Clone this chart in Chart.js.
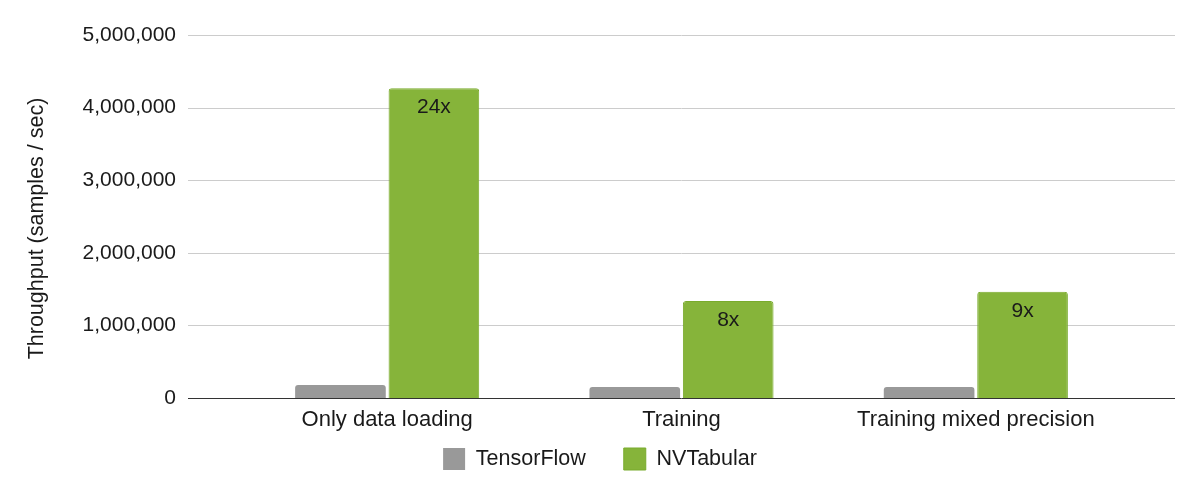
<!DOCTYPE html>
<html>
<head>
<meta charset="utf-8">
<script src="https://cdn.jsdelivr.net/npm/chart.js@4.4.1/dist/chart.umd.min.js"></script>
<style>
  html, body { margin: 0; padding: 0; background: #fff; }
  #wrap { width: 1200px; height: 495px; position: relative; }
</style>
</head>
<body>
<div id="wrap"><canvas id="throughputChart"></canvas></div>
<script>
// Dados
const categories = ['Only data loading', 'Training', 'Training mixed precision'];
const tensorflowValues = [180000, 150000, 150000];
const nvtabularValues = [4266000, 1336000, 1464000];
const speedupLabels = ['24x', '8x', '9x'];
const yTicks = [0, 1000000, 2000000, 3000000, 4000000, 5000000];

const FONT = 'Liberation Sans, Arial, sans-serif';
const TEXT = '#1a1a1a';
const GRID_EXTEND = 52; // linhas de grade passam um pouco da área das barras

// Linhas de grade horizontais (mais largas que a área das categorias) + rótulos nas barras
const extendedGrid = {
    id: 'extendedGrid',
    afterLayout(chart) {
        // o eixo x é "baixo" para aproximar a legenda; aumenta só a área de recorte dos rótulos
        const x = chart.scales.x;
        x.bottom = x.top + 40;
        // título do eixo y fica um pouco abaixo do centro na referência
        const y = chart.scales.y;
        y.top += 12;
        y.bottom += 12;
    },
    beforeDatasetsDraw(chart) {
        const { ctx, chartArea, scales } = chart;
        ctx.save();
        ctx.lineWidth = 1;
        ctx.strokeStyle = '#cccccc';
        yTicks.forEach(function(v) {
            if (v === 0) return;
            const y = Math.round(scales.y.getPixelForValue(v)) + 0.5;
            ctx.beginPath();
            ctx.moveTo(chartArea.left - GRID_EXTEND, y);
            ctx.lineTo(chartArea.right + GRID_EXTEND, y);
            ctx.stroke();
        });
        ctx.restore();
    },
    afterDatasetsDraw(chart) {
        const { ctx, chartArea, scales } = chart;
        ctx.save();
        // linha do zero
        const y0 = Math.round(scales.y.getPixelForValue(0)) + 0.5;
        ctx.strokeStyle = '#333333';
        ctx.lineWidth = 1;
        ctx.beginPath();
        ctx.moveTo(chartArea.left - GRID_EXTEND, y0);
        ctx.lineTo(chartArea.right + GRID_EXTEND, y0);
        ctx.stroke();

        // rótulos de aceleração dentro das barras do NVTabular
        const meta = chart.getDatasetMeta(1);
        ctx.fillStyle = TEXT;
        ctx.font = '21px ' + FONT;
        ctx.textAlign = 'center';
        ctx.textBaseline = 'middle';
        meta.data.forEach(function(bar, i) {
            ctx.fillText(speedupLabels[i], bar.x, bar.y + 19);
        });
        ctx.restore();
    }
};

new Chart(document.getElementById('throughputChart'), {
    type: 'bar',
    data: {
        labels: categories,
        datasets: [
            {
                label: 'TensorFlow',
                data: tensorflowValues,
                backgroundColor: '#999999',
                borderColor: '#999999',
                borderWidth: 0,
                borderRadius: { topLeft: 3, topRight: 3 },
                borderSkipped: 'bottom',
                categoryPercentage: 0.635,
                barPercentage: 0.97
            },
            {
                label: 'NVTabular',
                data: nvtabularValues,
                backgroundColor: '#86b43a',
                borderColor: '#79ab2c',
                borderWidth: 1,
                borderRadius: { topLeft: 3, topRight: 3 },
                borderSkipped: 'bottom',
                categoryPercentage: 0.635,
                barPercentage: 0.97
            }
        ]
    },
    options: {
        responsive: true,
        maintainAspectRatio: false,
        animation: false,
        layout: {
            padding: { top: 35, right: 77, left: 77, bottom: 15 }
        },
        plugins: {
            legend: {
                position: 'bottom',
                labels: {
                    color: TEXT,
                    font: { family: FONT, size: 21.5 },
                    boxWidth: 22,
                    boxHeight: 22,
                    padding: 38
                }
            },
            tooltip: { enabled: false }
        },
        scales: {
            x: {
                grid: { display: false, drawTicks: false },
                border: { display: false },
                ticks: {
                    color: TEXT,
                    font: { family: FONT, size: 22 },
                    padding: 9,
                    maxRotation: 0
                },
                afterFit: function(scale) {
                    scale.height = 12;
                }
            },
            y: {
                min: 0,
                max: 5000000,
                afterBuildTicks: function(scale) {
                    scale.ticks = yTicks.map(function(v) { return { value: v }; });
                },
                afterFit: function(scale) {
                    scale.width = 163;
                    scale.paddingTop = 10;
                    scale.paddingBottom = 10;
                },
                grid: { display: false, drawTicks: false },
                border: { display: false },
                ticks: {
                    color: TEXT,
                    font: { family: FONT, size: 21 },
                    padding: 64,
                    callback: function(v) { return v.toLocaleString('en-US'); }
                },
                title: {
                    display: true,
                    text: 'Throughput (samples / sec)',
                    color: TEXT,
                    font: { family: FONT, size: 21.5 },
                    padding: { top: -52.9, bottom: 0 }
                }
            }
        }
    },
    plugins: [extendedGrid]
});
</script>
</body>
</html>
